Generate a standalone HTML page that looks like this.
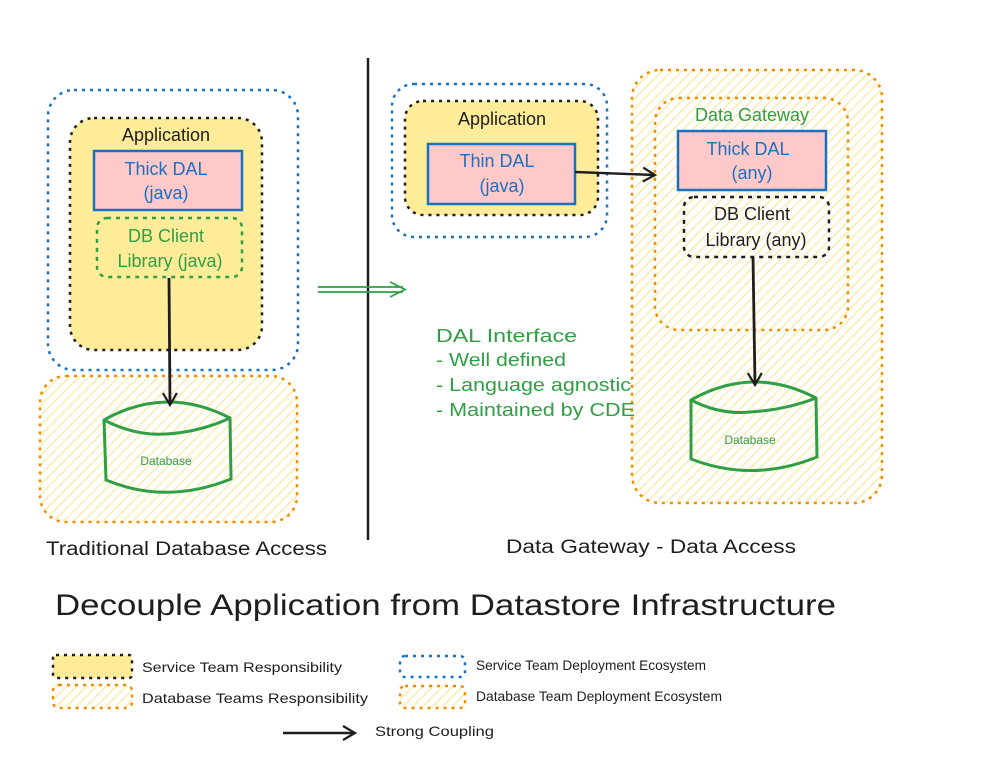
<!DOCTYPE html>
<html><head><meta charset="utf-8"><style>
html,body{margin:0;padding:0;background:#fff;}
svg{display:block;}
text{font-family:"Liberation Sans",sans-serif;}
</style></head><body>
<svg width="992" height="780" viewBox="0 0 992 780" xmlns="http://www.w3.org/2000/svg">
<defs>
<pattern id="h" patternUnits="userSpaceOnUse" width="7" height="7" patternTransform="rotate(45)">
<rect width="7" height="7" fill="#fff"/>
<line x1="0" y1="0" x2="0" y2="7" stroke="#ffe07a" stroke-width="1.8"/>
</pattern>
<marker id="ar" markerWidth="16" markerHeight="16" refX="13" refY="8" orient="auto" markerUnits="userSpaceOnUse">
<path d="M1,1 L13,8 L1,15" fill="none" stroke="#1e1e1e" stroke-width="2.2"/>
</marker>
</defs>
<rect width="992" height="780" fill="#fff"/>
<g font-size="18">
<!-- LEFT -->
<rect x="48" y="90" width="250" height="280" rx="26" fill="none" stroke="#1971c2" stroke-width="2.5" stroke-dasharray="3,5"/>
<rect x="40" y="376" width="257" height="146" rx="26" fill="url(#h)" stroke="#f08c00" stroke-width="2.5" stroke-dasharray="3,5"/>
<rect x="70" y="118" width="192" height="232" rx="24" fill="#ffec99" stroke="#1e1e1e" stroke-width="2.5" stroke-dasharray="3,5"/>
<text x="166" y="141" text-anchor="middle" fill="#1e1e1e">Application</text>
<rect x="94" y="151" width="148" height="59" fill="#ffc9c9" stroke="#1971c2" stroke-width="2.5"/>
<text x="166" y="175" text-anchor="middle" fill="#1971c2">Thick DAL</text>
<text x="166" y="199" text-anchor="middle" fill="#1971c2">(java)</text>
<rect x="97" y="218" width="145" height="59" rx="10" fill="none" stroke="#2f9e44" stroke-width="2.5" stroke-dasharray="4,5"/>
<text x="166" y="242" text-anchor="middle" fill="#2f9e44">DB Client</text>
<text x="170" y="267" text-anchor="middle" fill="#2f9e44">Library (java)</text>
<path d="M104,420 Q166,385 230,418 L231,479 Q166,505 106,480 Z" fill="none" stroke="#2f9e44" stroke-width="3"/>
<path d="M104,420 Q135,436 166,434 Q200,432 230,418" fill="none" stroke="#2f9e44" stroke-width="3"/>
<text x="166" y="465" text-anchor="middle" fill="#2f9e44" font-size="12">Database</text>
<line x1="169" y1="278" x2="170" y2="405" stroke="#1e1e1e" stroke-width="2.8" marker-end="url(#ar)"/>
<!-- divider -->
<line x1="368" y1="58" x2="368" y2="540" stroke="#1e1e1e" stroke-width="2.5"/>
<path d="M318,287 L403,287 M318,292 L403,292 M390,282 L405,289.5 L390,297" fill="none" stroke="#2f9e44" stroke-width="1.8"/>
<!-- RIGHT -->
<rect x="632" y="70" width="250" height="433" rx="28" fill="url(#h)" stroke="#f08c00" stroke-width="2.5" stroke-dasharray="3,5"/>
<rect x="655" y="98" width="193" height="232" rx="24" fill="none" stroke="#f08c00" stroke-width="2.5" stroke-dasharray="3,5"/>
<rect x="392" y="84" width="215" height="153" rx="22" fill="none" stroke="#1971c2" stroke-width="2.5" stroke-dasharray="3,5"/>
<rect x="405" y="101" width="193" height="114" rx="18" fill="#ffec99" stroke="#1e1e1e" stroke-width="2.5" stroke-dasharray="3,5"/>
<text x="502" y="125" text-anchor="middle" fill="#1e1e1e">Application</text>
<rect x="428" y="144" width="147" height="60" fill="#ffc9c9" stroke="#1971c2" stroke-width="2.5"/>
<text x="497" y="167" text-anchor="middle" fill="#1971c2">Thin DAL</text>
<text x="502" y="192" text-anchor="middle" fill="#1971c2">(java)</text>
<line x1="575" y1="172" x2="655" y2="175" stroke="#1e1e1e" stroke-width="2.4" marker-end="url(#ar)"/>
<text x="752" y="121" text-anchor="middle" fill="#2f9e44">Data Gateway</text>
<rect x="678" y="131" width="148" height="59" fill="#ffc9c9" stroke="#1971c2" stroke-width="2.5"/>
<text x="748" y="155" text-anchor="middle" fill="#1971c2">Thick DAL</text>
<text x="752" y="179" text-anchor="middle" fill="#1971c2">(any)</text>
<rect x="684" y="197" width="145" height="60" rx="10" fill="none" stroke="#1e1e1e" stroke-width="2.5" stroke-dasharray="4,5"/>
<text x="752" y="220" text-anchor="middle" fill="#1e1e1e">DB Client</text>
<text x="756" y="246" text-anchor="middle" fill="#1e1e1e">Library (any)</text>
<path d="M691,400 Q753,365 816,398 L817,457 Q753,483 691,459 Z" fill="none" stroke="#2f9e44" stroke-width="3"/>
<path d="M691,400 Q720,415 750,412 Q785,410 816,398" fill="none" stroke="#2f9e44" stroke-width="3"/>
<text x="750" y="444" text-anchor="middle" fill="#2f9e44" font-size="12">Database</text>
<line x1="753" y1="257" x2="755" y2="385" stroke="#1e1e1e" stroke-width="2.8" marker-end="url(#ar)"/>
<g fill="#2f9e44" font-size="18">
<text x="436" y="342" textLength="141" lengthAdjust="spacingAndGlyphs">DAL Interface</text>
<text x="436" y="366" textLength="130" lengthAdjust="spacingAndGlyphs">- Well defined</text>
<text x="436" y="391" textLength="195" lengthAdjust="spacingAndGlyphs">- Language agnostic</text>
<text x="436" y="416" textLength="199" lengthAdjust="spacingAndGlyphs">- Maintained by CDE</text>
</g>
<text x="46" y="555" fill="#1e1e1e" font-size="19" textLength="281" lengthAdjust="spacingAndGlyphs">Traditional Database Access</text>
<text x="506" y="553" fill="#1e1e1e" font-size="19" textLength="290" lengthAdjust="spacingAndGlyphs">Data Gateway - Data Access</text>
<text x="55" y="615" fill="#1e1e1e" font-size="30" textLength="781" lengthAdjust="spacingAndGlyphs">Decouple Application from Datastore Infrastructure</text>
<!-- legend -->
<rect x="53" y="655" width="79" height="23" rx="3" fill="#ffec99" stroke="#1e1e1e" stroke-width="2.5" stroke-dasharray="3,5"/>
<rect x="53" y="685" width="79" height="23" rx="6" fill="url(#h)" stroke="#f08c00" stroke-width="2.5" stroke-dasharray="3,5"/>
<rect x="400" y="656" width="65" height="21" rx="5" fill="none" stroke="#1971c2" stroke-width="2.5" stroke-dasharray="3,5"/>
<rect x="400" y="686" width="65" height="22" rx="5" fill="url(#h)" stroke="#f08c00" stroke-width="2.5" stroke-dasharray="3,5"/>
<g font-size="14" fill="#1e1e1e">
<text x="142" y="672" textLength="200" lengthAdjust="spacingAndGlyphs">Service Team Responsibility</text>
<text x="142" y="703" textLength="226" lengthAdjust="spacingAndGlyphs">Database Teams Responsibility</text>
<text x="476" y="670" textLength="230" lengthAdjust="spacingAndGlyphs">Service Team Deployment Ecosystem</text>
<text x="476" y="701" textLength="246" lengthAdjust="spacingAndGlyphs">Database Team Deployment Ecosystem</text>
<text x="375" y="736" textLength="119" lengthAdjust="spacingAndGlyphs">Strong Coupling</text>
</g>
<line x1="283" y1="733" x2="355" y2="733" stroke="#1e1e1e" stroke-width="2.4" marker-end="url(#ar)"/>
</g>
</svg>
</body></html>
